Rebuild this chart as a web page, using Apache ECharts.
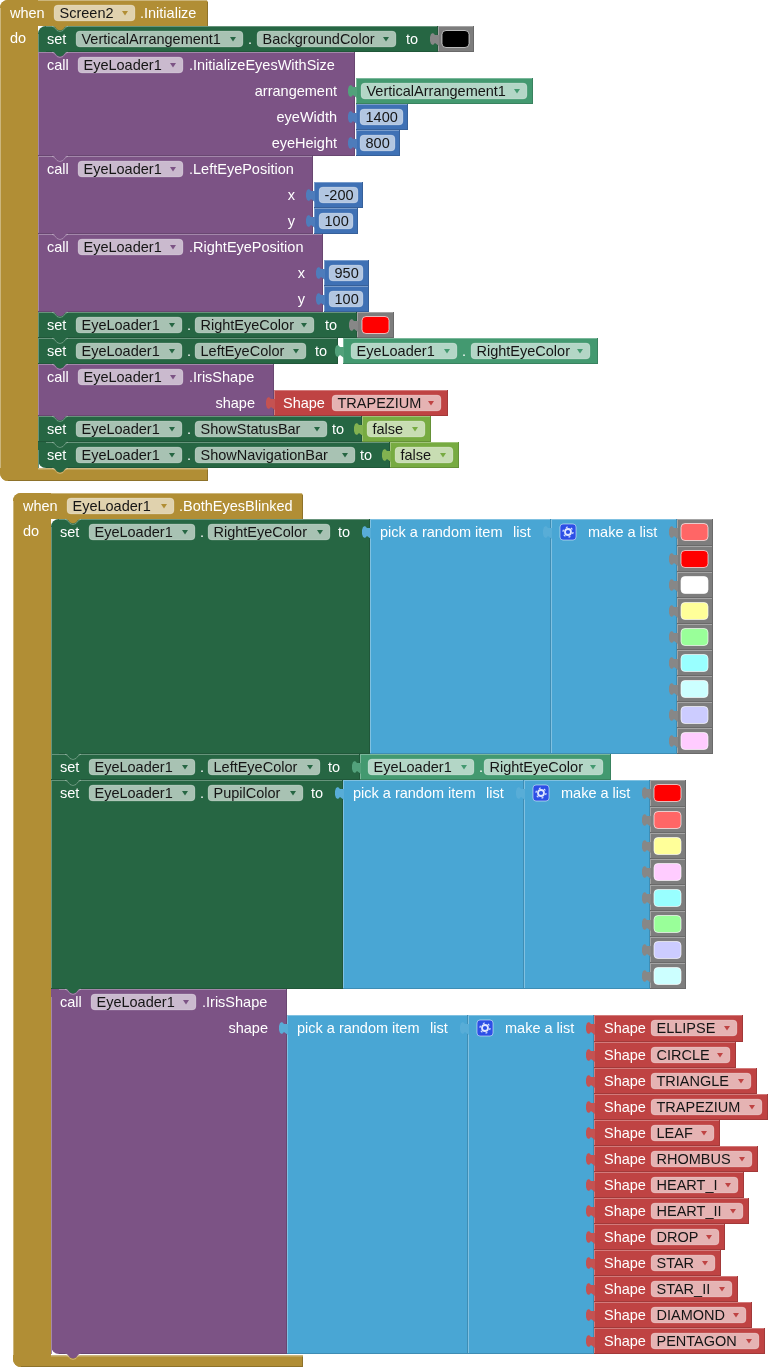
<!DOCTYPE html>
<html><head><meta charset="utf-8">
<style>html,body{margin:0;padding:0;background:#fff}#c{width:768px;height:1367px}</style>
<script src="https://cdn.jsdelivr.net/npm/echarts@6/dist/echarts.min.js"></script>
</head><body><div id="c"></div>
<script>
const palette = {gold:'#b18e35',green:'#266643',purple:'#7c5385',teal:'#439970',num:'#3f71b5',red:'#bf4343',grey:'#7d7d7d',logic:'#77ab41',list:'#49a6d4'};

// [x0,y0,x1,y1,kind]
const controlBlocks = [
 [0,0,208,26,'gold'],[0,0,38,481,'gold'],[0,468,208,481,'gold'],
 [13,493,303,519,'gold'],[13,493,51,1367,'gold'],[13,1355,303,1367,'gold']
];
const stackBlocks = [
 [38,26,438,52,'green'],[38,52,355,156,'purple'],[38,156,313,234,'purple'],[38,234,323,312,'purple'],
 [38,312,357,338,'green'],[38,338,338,364,'green'],[38,364,274,416,'purple'],[38,416,362,442,'green'],[38,442,390,468,'green'],
 [51,519,370,754,'green'],[51,754,360,780,'green'],[51,780,343,989,'green'],[51,989,287,1354,'purple']
];
const valueBlocks = [
 [438,26,474,52,'grey'],[356,78,533,104,'teal'],[356,104,408,130,'num'],[356,130,400,156,'num'],
 [314,182,363,208,'num'],[314,208,358,234,'num'],[324,260,369,286,'num'],[324,286,369,312,'num'],
 [357,312,394,338,'grey'],[343,338,598,364,'teal'],[274,390,448,416,'red'],[362,416,431,442,'logic'],[390,442,459,468,'logic'],
 [370,519,551,754,'list'],[551,519,677,754,'list'],[360,754,611,780,'teal'],[343,780,524,989,'list'],[524,780,650,989,'list'],
 [287,1015,468,1354,'list'],[468,1015,594,1354,'list']
];
// value sockets [x,y,kind]
const sockets = [
 [438,39,'grey'],[356,91,'teal'],[356,117,'num'],[356,143,'num'],[314,195,'num'],[314,221,'num'],[324,273,'num'],[324,299,'num'],
 [357,325,'grey'],[343,351,'teal'],[274,403,'red'],[362,429,'logic'],[390,455,'logic'],
 [370,532,'list'],[551,532,'list'],[360,767,'teal'],[343,793,'list'],[524,793,'list'],[287,1028,'list'],[468,1028,'list']
];
// bump under statement [x,y,kind]
const bumps = [
 [38,26,'gold'],[38,52,'green'],[38,156,'purple'],[38,234,'purple'],[38,312,'purple'],[38,338,'green'],[38,364,'green'],[38,416,'purple'],[38,442,'green'],[38,468,'green'],
 [51,519,'gold'],[51,754,'green'],[51,780,'green'],[51,989,'green'],[51,1354,'purple']
];

const swatchColorsA = ['#ff6666','#ff0000','#ffffff','#ffff99','#99ff99','#99ffff','#ccffff','#ccccff','#ffccff'];
const swatchColorsB = ['#ff0000','#ff6666','#ffff99','#ffccff','#99ffff','#99ff99','#ccccff','#ccffff'];
const shapeNames = ['ELLIPSE','CIRCLE','TRIANGLE','TRAPEZIUM','LEAF','RHOMBUS','HEART_I','HEART_II','DROP','STAR','STAR_II','DIAMOND','PENTAGON'];
const shapeRight = [743,736,757,768,720,758,744,749,725,721,738,752,765];

// list rows: the first row is one pixel taller than the others
const rowTop=(base,i)=>base+26*i+(i>0?1:0);

// swatches [x0,x1,y,color]
const swatches = [[442,469,39,'#000000'],[362,389,325,'#ff0000']];
swatchColorsA.forEach((c,i)=>{const t=rowTop(519,i),u=rowTop(519,i+1);valueBlocks.push([677,t,713,u,'grey']);sockets.push([677,t+13,'grey']);swatches.push([681,708,t+13,c]);});
swatchColorsB.forEach((c,i)=>{const t=rowTop(780,i),u=rowTop(780,i+1);valueBlocks.push([650,t,686,u,'grey']);sockets.push([650,t+13,'grey']);swatches.push([654,681,t+13,c]);});

// pills [x0,x1,y,text,kind,arrow]
const pills = [
 [54,135,13,'Screen2','gold',1],
 [76,243,39,'VerticalArrangement1','green',1],[257,396,39,'BackgroundColor','green',1],
 [78,183,65,'EyeLoader1','purple',1],[361,527,91,'VerticalArrangement1','teal',1],
 [360,403,117,'1400','num',0],[360,395,143,'800','num',0],
 [78,183,169,'EyeLoader1','purple',1],[319,358,195,'-200','num',0],[319,353,221,'100','num',0],
 [78,183,247,'EyeLoader1','purple',1],[329,363,273,'950','num',0],[329,363,299,'100','num',0],
 [76,182,325,'EyeLoader1','green',1],[195,314,325,'RightEyeColor','green',1],
 [76,182,351,'EyeLoader1','green',1],[195,306,351,'LeftEyeColor','green',1],
 [351,457,351,'EyeLoader1','teal',1],[471,590,351,'RightEyeColor','teal',1],
 [78,183,377,'EyeLoader1','purple',1],[332,441,403,'TRAPEZIUM','red',1],
 [76,182,429,'EyeLoader1','green',1],[195,327,429,'ShowStatusBar','green',1],[367,425,429,'false','logic',1],
 [76,182,455,'EyeLoader1','green',1],[195,355,455,'ShowNavigationBar','green',1],[395,453,455,'false','logic',1],
 [67,174,506,'EyeLoader1','gold',1],
 [89,195,532,'EyeLoader1','green',1],[208,330,532,'RightEyeColor','green',1],
 [89,195,767,'EyeLoader1','green',1],[208,320,767,'LeftEyeColor','green',1],
 [368,474,767,'EyeLoader1','teal',1],[484,603,767,'RightEyeColor','teal',1],
 [89,195,793,'EyeLoader1','green',1],[208,303,793,'PupilColor','green',1],
 [91,196,1002,'EyeLoader1','purple',1]
];
// labels [x,y,text,align]
const labels = [
 [10,13,'when','left'],[140,13,'.Initialize','left'],[10,38,'do','left'],
 [47,39,'set','left'],[248,39,'.','left'],[406,39,'to','left'],
 [47,65,'call','left'],[189,65,'.InitializeEyesWithSize','left'],
 [337,91,'arrangement','right'],[337,117,'eyeWidth','right'],[337,143,'eyeHeight','right'],
 [47,169,'call','left'],[189,169,'.LeftEyePosition','left'],[295,195,'x','right'],[295,221,'y','right'],
 [47,247,'call','left'],[189,247,'.RightEyePosition','left'],[305,273,'x','right'],[305,299,'y','right'],
 [47,325,'set','left'],[187,325,'.','left'],[325,325,'to','left'],
 [47,351,'set','left'],[187,351,'.','left'],[315,351,'to','left'],[462,351,'.','left'],
 [47,377,'call','left'],[189,377,'.IrisShape','left'],[255,403,'shape','right'],[283,403,'Shape','left'],
 [47,429,'set','left'],[187,429,'.','left'],[332,429,'to','left'],
 [47,455,'set','left'],[187,455,'.','left'],[360,455,'to','left'],
 [23,506,'when','left'],[179,506,'.BothEyesBlinked','left'],[23,531,'do','left'],
 [60,532,'set','left'],[200,532,'.','left'],[338,532,'to','left'],
 [380,532,'pick a random item','left'],[513,532,'list','left'],[588,532,'make a list','left'],
 [60,767,'set','left'],[200,767,'.','left'],[328,767,'to','left'],[479,767,'.','left'],
 [60,793,'set','left'],[200,793,'.','left'],[311,793,'to','left'],
 [353,793,'pick a random item','left'],[486,793,'list','left'],[561,793,'make a list','left'],
 [60,1002,'call','left'],[202,1002,'.IrisShape','left'],[268,1028,'shape','right'],
 [297,1028,'pick a random item','left'],[430,1028,'list','left'],[505,1028,'make a list','left']
];
// mutator gears [x,y]
const gears = [[568,532],[541,793],[485,1028]];

shapeNames.forEach((n,i)=>{
  const t=rowTop(1015,i),u=rowTop(1015,i+1),y=t+13;
  valueBlocks.push([594,t,shapeRight[i],u,'red']);
  sockets.push([594,y,'red']);
  labels.push([604,y,'Shape','left']);
  pills.push([651,shapeRight[i]-6,y,n,'red',1]);
});

const FONT = '14.5px "Liberation Sans", Arial, sans-serif';
function mix(hex,t,a){
  const n=parseInt(hex.slice(1),16),r=n>>16,g=(n>>8)&255,b=n&255;
  const m=v=>Math.round(v+(t-v)*a);
  return `rgb(${m(r)},${m(g)},${m(b)})`;
}
function blockRender(src,radii){
  return function(p,api){
    const a=api.coord([api.value(0),api.value(1)]),b=api.coord([api.value(2),api.value(3)]);
    const c=palette[src[p.dataIndex][4]];
    const w=b[0]-a[0],h=b[1]-a[1];
    const r=radii?radii(src[p.dataIndex],p.dataIndex):0;
    const o=r?8:0;
    return {type:'group',children:[
      {type:'rect',shape:{x:a[0],y:a[1],width:w,height:h,r:r},style:{fill:c}},
      {type:'rect',shape:{x:a[0]+o,y:a[1],width:w-o,height:1},style:{fill:mix(c,255,.3)}},
      {type:'rect',shape:{x:a[0],y:a[1]+o,width:1,height:h-o},style:{fill:mix(c,255,.3)}},
      {type:'rect',shape:{x:a[0]+o,y:b[1]-1,width:w-o,height:1},style:{fill:mix(c,0,.15)}},
      {type:'rect',shape:{x:b[0]-1,y:a[1],width:1,height:h},style:{fill:mix(c,0,.15)}}
    ]};
  };
}
// the C-shaped event frame: three pieces, only outer edges are shaded
function controlRender(p,api){
  const a=api.coord([api.value(0),api.value(1)]),b=api.coord([api.value(2),api.value(3)]);
  const c=palette.gold,w=b[0]-a[0],h=b[1]-a[1],k=p.dataIndex%3;
  const r=[[8,3,0,0],[8,0,0,8],[0,0,2,8]][k];
  const light=mix(c,255,.35),dark=mix(c,0,.2),kids=[{type:'rect',shape:{x:a[0],y:a[1],width:w,height:h,r:r},style:{fill:c}}];
  if(k===0){
    kids.push({type:'rect',shape:{x:a[0]+8,y:a[1],width:w-10,height:1},style:{fill:light}});
    kids.push({type:'rect',shape:{x:b[0]-1,y:a[1]+2,width:1,height:h-2},style:{fill:dark}});
  }
  if(k===1)kids.push({type:'rect',shape:{x:a[0],y:a[1]+8,width:1,height:h-16},style:{fill:light}});
  if(k===2){
    kids.push({type:'rect',shape:{x:a[0]+8,y:b[1]-1,width:w-8,height:1},style:{fill:dark}});
    kids.push({type:'rect',shape:{x:b[0]-1,y:a[1],width:1,height:h},style:{fill:dark}});
    kids.push({type:'rect',shape:{x:a[0]+38,y:a[1],width:w-38,height:1.5},style:{fill:light}});
  }
  return {type:'group',children:kids};
}
const base={type:'custom',coordinateSystem:'cartesian2d',silent:true,animation:false,clip:false};
const stackR=(d,i)=>(i===0||i===9)?[8,0,0,0]:((i===8||i===12)?[0,0,0,8]:0);

const option={
 backgroundColor:'#ffffff',animation:false,
 grid:{left:0,right:0,top:0,bottom:0,containLabel:false},
 tooltip:{show:false},
 xAxis:{type:'value',min:0,max:768,show:false},
 yAxis:{type:'value',min:0,max:1367,inverse:true,show:false},
 series:[
  {...base,name:'control',data:controlBlocks.map(d=>d.slice(0,4)),encode:{x:[0,2],y:[1,3]},renderItem:controlRender,z:1},
  {...base,name:'values',data:valueBlocks.map(d=>d.slice(0,4)),encode:{x:[0,2],y:[1,3]},renderItem:blockRender(valueBlocks),z:3},
  {...base,name:'stack',data:stackBlocks.map(d=>d.slice(0,4)),encode:{x:[0,2],y:[1,3]},renderItem:blockRender(stackBlocks,stackR),z:2},
  {...base,name:'bumps',data:bumps.map(d=>d.slice(0,2)),encode:{x:0,y:1},z:4,renderItem(p,api){
    const q=api.coord([api.value(0),api.value(1)]),c=palette[bumps[p.dataIndex][2]],x=q[0],y=q[1];
    const pts=[[x+14,y-1],[x+17,y+1],[x+19,y+3.5],[x+22,y+4.5],[x+25,y+3.5],[x+27,y+1],[x+30,y-1]];
    return {type:'group',children:[
      {type:'polyline',shape:{points:pts.map(t=>[t[0],t[1]+1])},style:{fill:null,stroke:'rgba(255,255,255,.3)',lineWidth:1}},
      {type:'polygon',shape:{points:pts},style:{fill:c}}
    ]};
  }},
  {...base,name:'sockets',data:sockets.map(d=>d.slice(0,2)),encode:{x:0,y:1},z:5,renderItem(p,api){
    const q=api.coord([api.value(0),api.value(1)]),c=palette[sockets[p.dataIndex][2]],x=q[0],y=q[1];
    const pts=[[x+1,y-4],[x-3,y-4],[x-5,y-6],[x-7,y-5],[x-8,y-2],[x-8,y+2],[x-7,y+5],[x-5,y+6],[x-3,y+4],[x+1,y+7]];
    return {type:'polygon',shape:{points:pts},style:{fill:mix(c,255,.08)}};
  }},
  {...base,name:'swatches',data:swatches.map(d=>d.slice(0,3)),encode:{x:[0,1],y:2},z:6,renderItem(p,api){
    const a=api.coord([api.value(0),api.value(2)]),b=api.coord([api.value(1),api.value(2)]);
    return {type:'rect',shape:{x:a[0],y:a[1]-8.5,width:b[0]-a[0],height:17,r:4},style:{fill:swatches[p.dataIndex][3],stroke:'rgba(255,255,255,.65)',lineWidth:1}};
  }},
  {...base,name:'pills',data:pills.map(d=>d.slice(0,3)),encode:{x:[0,1],y:2},z:6,renderItem(p,api){
    const a=api.coord([api.value(0),api.value(2)]),b=api.coord([api.value(1),api.value(2)]);
    const d=pills[p.dataIndex],c=palette[d[4]],kids=[
      {type:'rect',shape:{x:a[0],y:a[1]-8,width:b[0]-a[0],height:16,r:4},style:{fill:'rgba(255,255,255,.6)',stroke:'rgba(255,255,255,.18)',lineWidth:1}},
      {type:'text',style:{x:a[0]+5.5,y:a[1]+.5,text:d[3],font:FONT,fill:'#151515',align:'left',verticalAlign:'middle'}}
    ];
    if(d[5])kids.push({type:'polygon',shape:{points:[[b[0]-13,a[1]-2],[b[0]-7,a[1]-2],[b[0]-10,a[1]+2.5]]},style:{fill:c}});
    return {type:'group',children:kids};
  }},
  {...base,name:'gears',data:gears,encode:{x:0,y:1},z:6,renderItem(p,api){
    const q=api.coord([api.value(0),api.value(1)]);
    return {type:'group',children:[
      {type:'rect',shape:{x:q[0]-8,y:q[1]-8,width:16,height:16,r:3},style:{fill:'#2c4fe6',stroke:'rgba(255,255,255,.5)',lineWidth:1}},
      {type:'circle',shape:{cx:q[0],cy:q[1],r:3},style:{fill:null,stroke:'#dfe6ff',lineWidth:1.8}},
      {type:'circle',shape:{cx:q[0],cy:q[1],r:5},style:{fill:null,stroke:'#dfe6ff',lineWidth:1.2,lineDash:[2,3.2]}}
    ]};
  }},
  {...base,name:'labels',data:labels.map(d=>d.slice(0,2)),encode:{x:0,y:1},z:7,renderItem(p,api){
    const q=api.coord([api.value(0),api.value(1)]),d=labels[p.dataIndex];
    return {type:'text',style:{x:q[0],y:q[1]+.5,text:d[2],font:FONT,fill:'#ffffff',align:d[3],verticalAlign:'middle'}};
  }}
 ]
};
const chart=echarts.init(document.getElementById('c'),null,{renderer:'canvas'});
chart.setOption(option);
</script></body></html>
